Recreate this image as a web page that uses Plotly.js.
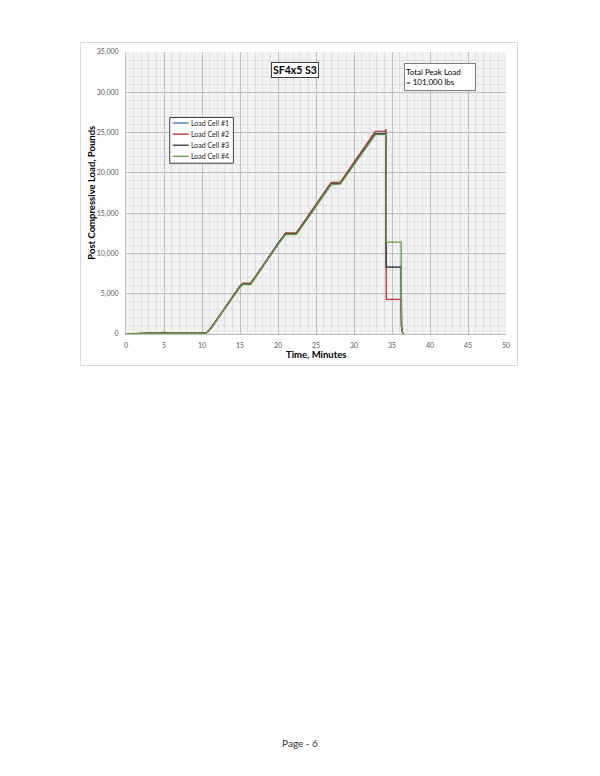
<!DOCTYPE html>
<html>
<head>
<meta charset="utf-8">
<script src="https://cdn.plot.ly/plotly-3.0.1.min.js"></script>
<style>
  html,body{margin:0;padding:0;background:#fff;width:600px;height:776px;overflow:hidden;}
  #chart{position:absolute;left:80px;top:42px;width:438px;height:324px;border:1px solid #d9d9d9;box-sizing:border-box;}
  #footer{position:absolute;left:0;width:600px;top:737px;text-align:center;font-family:Lato,"Liberation Sans",sans-serif;font-size:10px;color:#333;}
</style>
</head>
<body>
<div id="chart"></div>
<div id="footer">Page - 6</div>
<script>
// ---- data ----
const seriesNames = ["Load Cell #1", "Load Cell #2", "Load Cell #3", "Load Cell #4"];
const seriesColors = ["#4a7ebb", "#c0393b", "#404040", "#6a9a45"];

const timeMin = [0, 3, 3.2, 4.5, 5, 5.3, 6, 8, 10.5, 10.8, 11.3, 12, 13, 14, 15, 15.4, 16.4, 17, 18, 19, 20, 21, 22.4, 23, 24, 25, 26, 27, 28.2, 29, 30, 31, 32, 32.8, 34.1, 34.2, 34.25, 36.2, 36.25, 36.35, 36.5];

const cell1 = [0, 0, 90, 100, 110, 110, 100, 90, 90, 320, 880, 1850, 3220, 4580, 5900, 6250, 6250, 7050, 8450, 9800, 11200, 12450, 12450, 13200, 14550, 15900, 17300, 18650, 18700, 19750, 21100, 22450, 23800, 24850, 24850, 24900, 8300, 8300, 1000, 300, 0];
const cell2 = [0, 0, 90, 100, 220, 120, 100, 90, 90, 330, 900, 1880, 3250, 4620, 5950, 6300, 6300, 7100, 8500, 9880, 11300, 12550, 12550, 13350, 14700, 16050, 17450, 18800, 18850, 19950, 21350, 22700, 24050, 25150, 25150, 25400, 4300, 4300, 1000, 300, 0];
const cell3 = [0, 0, 90, 100, 110, 110, 100, 90, 90, 320, 880, 1850, 3220, 4580, 5900, 6250, 6250, 7050, 8450, 9800, 11200, 12450, 12450, 13200, 14550, 15900, 17300, 18650, 18700, 19750, 21100, 22450, 23800, 24850, 24850, 24950, 8300, 8300, 1000, 300, 0];
const cell4 = [0, 0, 80, 90, 100, 100, 90, 80, 80, 300, 850, 1800, 3150, 4500, 5800, 6150, 6150, 6950, 8350, 9700, 11100, 12350, 12350, 13100, 14450, 15800, 17200, 18550, 18600, 19650, 21000, 22350, 23700, 24750, 24750, 24800, 11400, 11400, 1000, 300, 0];
const seriesValues = [cell1, cell2, cell3, cell4];

const xTicks = [0, 5, 10, 15, 20, 25, 30, 35, 40, 45, 50];
const yTicks = [0, 5000, 10000, 15000, 20000, 25000, 30000, 35000];

const chartTitle = "SF4x5 S3";
const peakNote = "Total Peak Load<br>= 101,000 lbs";
const xTitle = "Time, Minutes";
const yTitle = "Post Compressive Load, Pounds";

// ---- layout helpers (page pixels -> paper coords) ----
const M = {l: 45, r: 11, t: 9, b: 31};
const DIV = {left: 80, top: 42, w: 438, h: 324};
const PW = DIV.w - M.l - M.r, PH = DIV.h - M.t - M.b;
const px = x => (x - DIV.left - M.l) / PW;
const py = y => 1 - (y - DIV.top - M.t) / PH;

const FONT = "Lato, 'Liberation Sans', sans-serif";

const traces = seriesNames.map((n, i) => ({
  x: timeMin, y: seriesValues[i], name: n, type: "scatter", mode: "lines",
  line: {color: seriesColors[i], width: 1.4}, showlegend: false, hoverinfo: "skip"
}));

// custom compact legend
const shapes = [{type: "rect", xref: "paper", yref: "paper", x0: px(169), x1: px(233), y0: py(163), y1: py(117),
  line: {color: "#404040", width: 1}, fillcolor: "#ffffff", layer: "above"}];
const annotations = [];
seriesNames.forEach((n, i) => {
  const yy = 122.5 + i * 11.2;
  shapes.push({type: "line", xref: "paper", yref: "paper", x0: px(172), x1: px(188), y0: py(yy), y1: py(yy),
    line: {color: seriesColors[i], width: 1.4}, layer: "above"});
  annotations.push({xref: "paper", yref: "paper", x: px(188.5), y: py(yy), xanchor: "left", yanchor: "middle",
    text: n, showarrow: false, font: {family: FONT, size: 7, color: "#222"}});
});

annotations.push({xref: "paper", yref: "paper", x: px(294.5), y: py(69), xanchor: "center", yanchor: "middle",
  text: "<b>" + chartTitle + "</b>", showarrow: false, font: {family: FONT, size: 10.5, color: "#000"},
  bgcolor: "#fff", bordercolor: "#404040", borderwidth: 1, borderpad: 1});
annotations.push({xref: "paper", yref: "paper", x: px(441), y: py(76.5), xanchor: "center", yanchor: "middle",
  text: peakNote, align: "left", showarrow: false, font: {family: FONT, size: 8, color: "#000"},
  bgcolor: "#fff", bordercolor: "#7f7f7f", borderwidth: 1, width: 68, height: 24, borderpad: 1});
annotations.push({xref: "paper", yref: "paper", x: 0.5, y: py(356), xanchor: "center", yanchor: "middle",
  text: "<b>" + xTitle + "</b>", showarrow: false, font: {family: FONT, size: 9.5, color: "#000"}});
annotations.push({xref: "paper", yref: "paper", x: px(89.5), y: 0.5, xanchor: "center", yanchor: "middle",
  text: "<b>" + yTitle + "</b>", textangle: -90, showarrow: false, font: {family: FONT, size: 9.5, color: "#000"}});

const layout = {
  width: DIV.w - 2, height: DIV.h - 2,
  margin: {l: M.l, r: M.r, t: M.t, b: M.b, pad: 0},
  paper_bgcolor: "#ffffff", plot_bgcolor: "#f2f2f2",
  showlegend: false,
  xaxis: {range: [0, 50], tickvals: xTicks, ticktext: xTicks.map(String), showgrid: true, gridcolor: "#bfbfbf", gridwidth: 1,
    minor: {dtick: 1, showgrid: true, gridcolor: "#dcdcdc", gridwidth: 0.8},
    zeroline: false, showline: true, linecolor: "#bfbfbf", ticks: "", ticklabelstandoff: 5, fixedrange: true,
    tickfont: {family: FONT, size: 7, color: "#595959"}},
  yaxis: {range: [0, 35000], tickvals: yTicks, ticktext: yTicks.map(v => v.toLocaleString("en-US")),
    showgrid: true, gridcolor: "#bfbfbf", gridwidth: 1,
    minor: {dtick: 1000, showgrid: true, gridcolor: "#dcdcdc", gridwidth: 0.8},
    zeroline: false, showline: true, linecolor: "#bfbfbf", ticks: "", ticklabelstandoff: 5, fixedrange: true,
    tickfont: {family: FONT, size: 7, color: "#595959"}},
  shapes: shapes, annotations: annotations
};

Plotly.newPlot("chart", traces, layout, {displayModeBar: false, staticPlot: true});
</script>
</body>
</html>
